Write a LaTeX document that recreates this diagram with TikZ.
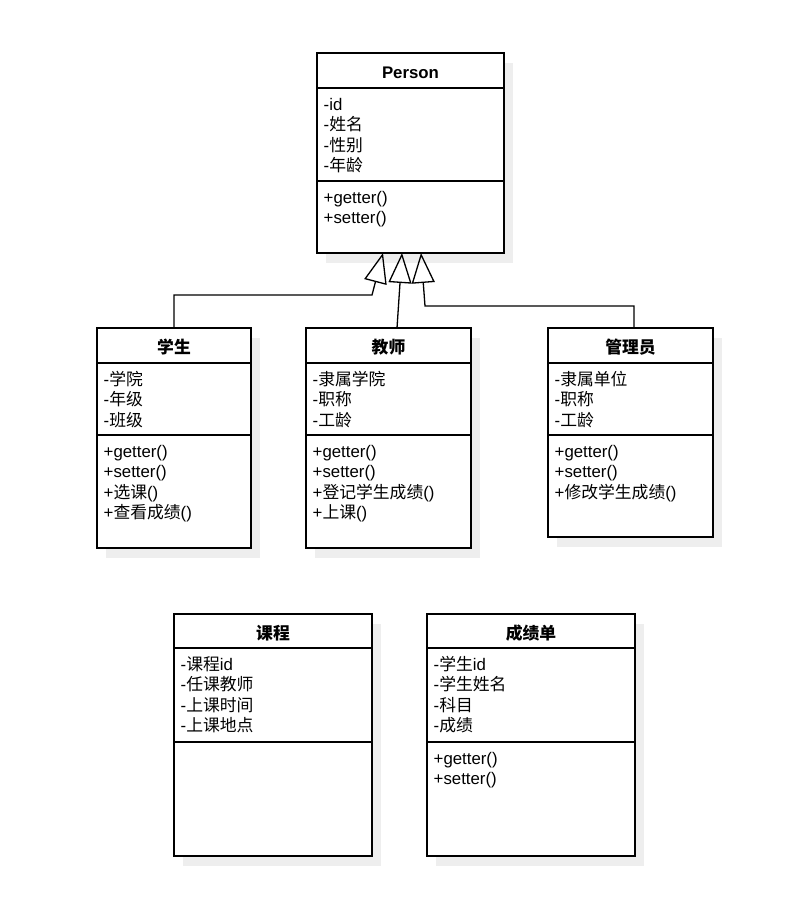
\documentclass[tikz,border=0pt]{standalone}
\usepackage{fontspec}
\setmainfont{Liberation Sans}
\newfontfamily\cjkfont{Noto Sans CJK SC}
\usetikzlibrary{arrows.meta}
\newcommand\zh[1]{{\cjkfont #1}}
\definecolor{shadowc}{RGB}{238,238,238}
\tikzset{
  umlframe/.style={draw=black, line width=1.4pt, fill=white, anchor=north west, inner sep=0pt, outer sep=0pt},
  umldiv/.style={draw=black, line width=1.4pt},
  umltitle/.style={font=\fontsize{16.8}{20}\selectfont\bfseries, anchor=base, inner sep=0pt},
  umlline/.style={font=\fontsize{16.8}{20}\selectfont, anchor=base west, inner sep=0pt},
  inherit/.style={draw=black, line width=1.3pt, -{Triangle[open, length=30pt, width=23pt, line width=1.3pt]}},
}
% id, x1, y1, x2, y2, d1, d2, title
\newcommand\umlclass[8]{%
  \fill[shadowc] (#2+9,#3+10) rectangle (#4+9,#5+10);
  \node[umlframe, minimum width={(#4-#2)*1pt}, minimum height={(#5-#3)*1pt}] (#1) at (#2,#3) {};
  \draw[umldiv] (#2,#6) -- (#4,#6);
  \draw[umldiv] (#2,#7) -- (#4,#7);
  \node[umltitle] (#1-t) at ({(#2+#4)/2},{(#3+#6)/2+8}) {#8};
}
% id-prefix, x1, divider y, list
\newcommand\umllines[4]{%
  \foreach \t [count=\i] in {#4} {
    \node[umlline] (#1\i) at ({#2+6.5},{#3+22+20.5*(\i-1)}) {\t};
  }
}
\begin{document}
\begin{tikzpicture}[x=1pt, y=-1pt]
\useasboundingbox[fill=white] (0,0) rectangle (806,905);

% Person
\umlclass{person}{317}{53}{504}{253}{88}{181}{Person}
\umllines{person-a}{317}{88}{{-id},{-\zh{姓名}},{-\zh{性别}},{-\zh{年龄}}}
\umllines{person-m}{317}{181}{{+getter()},{+setter()}}

% 学生
\umlclass{xs}{97}{328}{251}{548}{363}{435}{\zh{学生}}
\umllines{xs-a}{97}{363}{{-\zh{学院}},{-\zh{年级}},{-\zh{班级}}}
\umllines{xs-m}{97}{435}{{+getter()},{+setter()},{+\zh{选课}()},{+\zh{查看成绩}()}}

% 教师
\umlclass{js}{306}{328}{471}{548}{363}{435}{\zh{教师}}
\umllines{js-a}{306}{363}{{-\zh{隶属学院}},{-\zh{职称}},{-\zh{工龄}}}
\umllines{js-m}{306}{435}{{+getter()},{+setter()},{+\zh{登记学生成绩}()},{+\zh{上课}()}}

% 管理员
\umlclass{gl}{548}{328}{713}{537}{363}{435}{\zh{管理员}}
\umllines{gl-a}{548}{363}{{-\zh{隶属单位}},{-\zh{职称}},{-\zh{工龄}}}
\umllines{gl-m}{548}{435}{{+getter()},{+setter()},{+\zh{修改学生成绩}()}}

% 课程
\umlclass{kc}{174}{614}{372}{856}{648}{742}{\zh{课程}}
\umllines{kc-a}{174}{648}{{-\zh{课程}id},{-\zh{任课教师}},{-\zh{上课时间}},{-\zh{上课地点}}}

% 成绩单
\umlclass{cj}{427}{614}{635}{856}{648}{742}{\zh{成绩单}}
\umllines{cj-a}{427}{648}{{-\zh{学生}id},{-\zh{学生姓名}},{-\zh{科目}},{-\zh{成绩}}}
\umllines{cj-m}{427}{742}{{+getter()},{+setter()}}

% generalisation connectors
\coordinate (bend1) at (372,295);
\coordinate (bend3) at (425,306);
\draw[inherit] (xs.north) |- (bend1) -- ([xshift=66pt]person.south west);
\draw[inherit] ([xshift=91pt]js.north west) -- ([xshift=85pt]person.south west);
\draw[inherit] ([xshift=86pt]gl.north west) |- (bend3) -- ([xshift=104pt]person.south west);
\end{tikzpicture}
\end{document}
